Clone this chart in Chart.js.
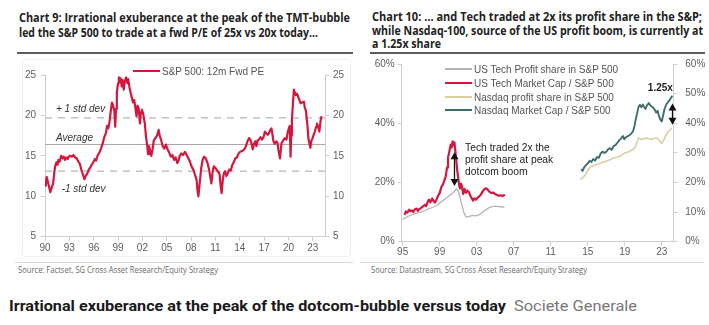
<!DOCTYPE html>
<html><head><meta charset="utf-8">
<script src="https://cdn.jsdelivr.net/npm/chart.js@4.4.0/dist/chart.umd.min.js"></script>
<style>
html,body{margin:0;padding:0;background:#fff;}
#page{position:relative;width:709px;height:325px;overflow:hidden;font-family:"Liberation Sans",Arial,sans-serif;}
.t{position:absolute;white-space:nowrap;transform-origin:0 50%;}
.title{font-family:"Open Sans",sans-serif;font-weight:700;font-size:11.5px;color:#222;line-height:15px;height:15px;}
.rule{position:absolute;height:2px;background:#5c5c5c;}
.thin{position:absolute;height:1px;background:#d8d8d8;}
.src{font-family:"Open Sans",sans-serif;font-size:8.5px;color:#6a6a6a;line-height:12px;height:12px;}
.leg{position:absolute;font-size:10px;color:#555;white-space:nowrap;line-height:12px;height:12px;}
.leg i{display:inline-block;width:27px;height:2px;vertical-align:middle;margin-right:2px;position:relative;top:-1px;}
.cap{font-family:Roboto,sans-serif;font-size:14.5px;line-height:18px;height:18px;}
canvas{position:absolute;}
</style></head><body>
<div id="page">
  <div class="t title" style="left:19px;top:9.5px" data-w="331">Chart 9: Irrational exuberance at the peak of the TMT-bubble</div>
  <div class="t title" style="left:19px;top:24.5px" data-w="299">led the S&amp;P 500 to trade at a fwd P/E of 25x vs 20x today…</div>
  <div class="rule" style="left:17px;top:52px;width:336px"></div>

  <div class="t title" style="left:372px;top:8.5px" data-w="330">Chart 10: … and Tech traded at 2x its profit share in the S&amp;P;</div>
  <div class="t title" style="left:372px;top:22.5px" data-w="331">while Nasdaq-100, source of the US profit boom, is currently at</div>
  <div class="t title" style="left:372px;top:36px" data-w="69">a 1.25x share</div>
  <div class="rule" style="left:370px;top:52px;width:335px"></div>

  <div style="position:absolute;left:22px;top:59px;width:327px;height:196px;border:1px solid #f0f0f0;border-radius:3px;"></div>

  <canvas id="c1" width="360" height="212" style="left:0;top:50px;width:360px;height:212px"></canvas>
  <canvas id="c2" width="349" height="212" style="left:360px;top:50px;width:349px;height:212px"></canvas>

  <div class="leg" style="left:133px;top:66px"><i id="lg0"></i>S&amp;P 500: 12m Fwd PE</div>
  <div class="leg" style="left:445px;top:64px"><i id="lg1"></i>US Tech Profit share in S&amp;P 500</div>
  <div class="leg" style="left:445px;top:78px"><i id="lg2"></i>US Tech Market Cap / S&amp;P 500</div>
  <div class="leg" style="left:445px;top:91.5px"><i id="lg3"></i>Nasdaq profit share in S&amp;P 500</div>
  <div class="leg" style="left:445px;top:104.5px"><i id="lg4"></i>Nasdaq Market Cap / S&amp;P 500</div>

  <div class="thin" style="left:15px;top:262px;width:338px"></div>
  <div class="thin" style="left:360px;top:262px;width:344px"></div>
  <div class="t src" style="left:18px;top:264px" data-w="200">Source: Factset, SG Cross Asset Research/Equity Strategy</div>
  <div class="t src" style="left:371px;top:264px" data-w="216">Source: Datastream, SG Cross Asset Research/Equity Strategy</div>

  <div class="t cap" style="left:9px;top:298px;font-weight:700;color:#1a1a1a" data-w="497">Irrational exuberance at the peak of the dotcom-bubble versus today</div>
  <div class="t cap" style="left:514px;top:298px;font-weight:400;color:#777" data-w="123">Societe Generale</div>
</div>
<script>
// ---------- DATA ----------
const peDates = [1990.0,1990.1,1990.2,1990.35,1990.5,1990.65,1990.8,1991.0,1991.15,1991.25,1991.4,1991.55,1991.65,1991.8,1992.0,1992.15,1992.3,1992.45,1992.6,1992.8,1992.9,1993.1,1993.3,1993.5,1993.7,1993.9,1994.1,1994.3,1994.5,1994.7,1994.85,1995.0,1995.2,1995.4,1995.6,1995.75,1996.0,1996.15,1996.3,1996.5,1996.7,1996.9,1997.1,1997.3,1997.5,1997.65,1997.8,1997.95,1998.1,1998.25,1998.4,1998.55,1998.65,1998.75,1998.85,1999.0,1999.1,1999.2,1999.3,1999.45,1999.55,1999.7,1999.85,2000.0,2000.15,2000.25,2000.4,2000.55,2000.7,2000.85,2001.0,2001.15,2001.28,2001.4,2001.55,2001.7,2001.8,2001.95,2002.1,2002.3,2002.45,2002.6,2002.7,2002.8,2002.95,2003.1,2003.25,2003.4,2003.6,2003.8,2004.0,2004.1,2004.3,2004.5,2004.7,2004.9,2005.1,2005.3,2005.5,2005.7,2005.9,2006.1,2006.3,2006.45,2006.6,2006.8,2007.0,2007.25,2007.45,2007.65,2007.85,2008.05,2008.27,2008.5,2008.68,2008.8,2008.9,2009.0,2009.1,2009.25,2009.42,2009.6,2009.8,2010.0,2010.2,2010.35,2010.5,2010.65,2010.8,2011.0,2011.15,2011.35,2011.5,2011.65,2011.76,2011.9,2012.05,2012.2,2012.35,2012.5,2012.7,2012.9,2013.05,2013.25,2013.45,2013.65,2013.85,2014.05,2014.3,2014.55,2014.75,2014.95,2015.15,2015.3,2015.45,2015.6,2015.75,2015.9,2016.05,2016.2,2016.35,2016.55,2016.75,2016.95,2017.1,2017.25,2017.45,2017.6,2017.75,2017.9,2018.05,2018.15,2018.3,2018.5,2018.65,2018.75,2018.9,2018.95,2019.05,2019.15,2019.35,2019.56,2019.75,2019.9,2020.05,2020.15,2020.2,2020.26,2020.33,2020.42,2020.55,2020.67,2020.75,2020.9,2021.05,2021.2,2021.35,2021.5,2021.65,2021.9,2022.0,2022.15,2022.25,2022.35,2022.45,2022.56,2022.7,2022.8,2022.97,2023.1,2023.25,2023.4,2023.5,2023.65,2023.8,2023.95,2024.07];
const peValues = [12.0,11.3,12.4,11.8,11.2,10.5,11.0,11.6,13.0,13.7,14.2,13.9,14.5,14.3,15.0,14.7,14.9,14.5,14.8,14.6,14.9,15.0,14.9,15.1,14.8,14.7,14.3,14.0,13.2,12.6,12.1,12.5,12.8,13.3,13.6,13.9,14.3,14.6,14.4,15.1,15.4,15.9,16.5,17.3,17.8,18.7,18.4,19.2,20.5,21.6,21.2,20.5,18.6,20.8,22.8,24.0,24.7,24.2,24.6,23.6,24.4,23.2,24.3,24.7,24.0,24.5,23.5,22.8,22.2,21.6,21.9,20.8,19.9,21.2,20.8,19.0,20.2,20.7,20.2,19.0,17.3,16.2,15.2,16.2,15.7,15.0,15.8,16.9,17.2,17.5,18.2,17.6,17.0,16.2,15.9,16.4,15.8,15.4,14.9,15.1,14.5,14.8,14.1,14.4,15.0,15.3,15.1,15.5,15.1,14.7,14.3,13.7,13.3,12.6,12.0,10.6,10.0,11.0,12.0,13.5,14.5,14.9,14.7,14.2,13.4,12.5,11.6,13.0,13.7,13.5,13.3,13.0,12.8,11.2,10.4,12.0,12.9,13.1,12.5,12.8,13.3,13.2,13.8,14.2,14.7,14.8,15.3,15.5,15.6,15.8,16.2,16.8,17.2,17.0,16.5,15.8,16.5,16.8,16.2,16.9,17.0,17.3,17.0,17.4,18.0,17.8,17.6,17.8,18.2,18.4,17.5,16.8,16.5,16.8,16.6,15.8,15.0,14.7,15.7,16.6,16.9,17.2,17.0,17.9,18.4,18.7,17.0,14.9,17.5,19.4,21.5,23.2,22.9,22.5,22.7,22.3,21.9,21.5,21.6,21.7,21.0,20.6,19.5,18.6,17.2,16.6,16.0,16.8,17.2,17.6,18.0,18.6,19.0,18.6,18.0,19.3,19.9];
const peBands = [19.7, 16.4, 13.1];          // +1 std dev, average, -1 std dev
const leftXTicks = [1990,1993,1996,1999,2002,2005,2008,2011,2014,2017,2020,2023];

const techCapDates = [1995.2,1995.35,1995.5,1995.7,1995.85,1996.0,1996.15,1996.3,1996.5,1996.65,1996.8,1997.0,1997.2,1997.4,1997.55,1997.7,1997.85,1998.0,1998.2,1998.35,1998.5,1998.65,1998.85,1999.0,1999.2,1999.35,1999.5,1999.65,1999.8,1999.9,2000.05,2000.2,2000.3,2000.4,2000.5,2000.6,2000.7,2000.8,2000.9,2001.0,2001.1,2001.2,2001.3,2001.4,2001.55,2001.7,2001.85,2002.0,2002.15,2002.3,2002.45,2002.6,2002.75,2002.9,2003.05,2003.25,2003.45,2003.65,2003.85,2004.05,2004.2,2004.4,2004.6,2004.8,2005.0,2005.2,2005.4,2005.6,2005.8,2006.05];
const techCapValues = [9.1,10.2,9.8,10.8,10.3,10.6,10.0,10.9,11.2,10.4,11.0,11.4,11.9,12.5,12.0,13.4,14.2,13.3,14.6,13.7,13.2,14.2,15.6,16.4,18.6,19.3,20.6,22.0,25.0,28.3,30.5,32.8,31.8,33.9,32.6,33.5,30.4,27.5,24.0,21.8,19.2,18.0,19.6,18.8,16.1,17.8,16.5,17.2,16.8,15.6,14.8,13.9,14.6,14.2,14.7,15.2,15.9,17.0,17.8,18.0,17.5,16.8,16.4,16.6,16.0,15.8,15.5,15.7,15.4,15.9];
const techProfitDates = [1995.0,1995.3,1995.6,1996.0,1996.4,1996.8,1997.2,1997.6,1998.0,1998.4,1998.8,1999.1,1999.5,1999.9,2000.2,2000.5,2000.8,2001.0,2001.2,2001.4,2001.6,2001.8,2002.0,2002.3,2002.6,2002.9,2003.2,2003.5,2003.8,2004.1,2004.4,2004.8,2005.2,2005.6,2006.0];
const techProfitValues = [7.6,8.0,8.6,9.1,9.5,9.8,10.2,10.8,11.3,11.8,12.4,13.3,14.2,15.2,15.9,16.7,17.8,17.2,15.0,12.5,10.0,8.5,8.3,8.6,8.9,8.7,9.0,9.6,10.4,11.0,11.6,11.9,11.9,11.8,11.6];
const ndqCapDates = [2014.3,2014.45,2014.6,2014.8,2015.0,2015.2,2015.4,2015.6,2015.8,2016.0,2016.2,2016.4,2016.6,2016.8,2017.0,2017.2,2017.4,2017.6,2017.8,2018.0,2018.2,2018.4,2018.6,2018.8,2018.95,2019.1,2019.3,2019.5,2019.7,2019.9,2020.05,2020.2,2020.35,2020.5,2020.65,2020.8,2020.95,2021.1,2021.25,2021.4,2021.6,2021.8,2022.0,2022.2,2022.4,2022.55,2022.7,2022.85,2023.0,2023.15,2023.3,2023.5,2023.7,2023.85,2024.0,2024.15];
const ndqCapValues = [24.5,23.9,25.0,25.8,26.4,27.3,26.9,27.9,27.4,28.6,28.3,29.8,30.4,30.0,30.3,31.2,31.6,31.0,32.3,32.6,33.4,34.2,34.8,35.7,34.6,35.2,35.6,35.9,36.5,37.3,39.0,41.5,43.5,45.6,46.2,45.4,46.3,45.5,44.8,46.0,46.8,45.9,45.5,44.8,43.6,44.2,42.5,41.2,40.6,42.6,44.8,46.4,47.2,47.8,48.6,49.3];
const ndqProfitDates = [2014.2,2014.45,2014.7,2014.9,2015.1,2015.3,2015.5,2015.75,2016.0,2016.3,2016.5,2016.8,2017.05,2017.4,2017.8,2018.1,2018.5,2018.8,2019.0,2019.3,2019.6,2019.9,2020.1,2020.3,2020.5,2020.8,2021.1,2021.4,2021.7,2021.9,2022.2,2022.5,2022.75,2023.0,2023.2,2023.4,2023.7,2024.1];
const ndqProfitValues = [21.1,21.6,22.3,23.4,24.4,25.4,25.4,25.9,26.1,26.4,26.7,27.0,27.2,27.7,28.3,28.5,28.9,29.5,30.0,30.2,30.6,31.2,31.7,33.5,35.0,34.5,34.8,35.0,34.7,34.5,34.9,35.0,34.0,33.2,34.2,35.6,37.2,38.3];
const rightXTicks = [1995,1999,2003,2007,2011,2015,2019,2023];

// ---------- STYLE ----------
const RED = '#d4173e', GREY = '#b4b4b4', TAN = '#d9cfa3', TEAL = '#3e6e69';
const AX = '#cfcfcf';
const FONT = {family:'"Liberation Sans", Arial, sans-serif', size:10};
const TICKC = '#606060';
[['lg0',RED],['lg1',GREY],['lg2',RED],['lg3',TAN],['lg4',TEAL]].forEach(([id,c])=>{document.getElementById(id).style.background=c;});

const pts = (xs, ys) => xs.map((x,i)=>({x, y: ys[i]}));
const flat = (x0, x1, v) => [{x:x0,y:v},{x:x1,y:v}];
const line = (data, color, w, extra={}) => Object.assign({data, borderColor:color, borderWidth:w, pointRadius:0, tension:0, fill:false, borderJoinStyle:'round'}, extra);

function axis(extra){
  return Object.assign({
    grid:{display:true, drawOnChartArea:false, drawTicks:true, tickLength:4, color:AX},
    border:{display:true, color:AX, width:1},
  }, extra);
}

function arrow(ctx, x, y1, y2){
  ctx.save();
  ctx.strokeStyle='#111'; ctx.fillStyle='#111'; ctx.lineWidth=1.3;
  ctx.beginPath(); ctx.moveTo(x, y1+5); ctx.lineTo(x, y2-5); ctx.stroke();
  ctx.beginPath(); ctx.moveTo(x, y1); ctx.lineTo(x-4, y1+7); ctx.lineTo(x+4, y1+7); ctx.closePath(); ctx.fill();
  ctx.beginPath(); ctx.moveTo(x, y2); ctx.lineTo(x-4, y2-7); ctx.lineTo(x+4, y2-7); ctx.closePath(); ctx.fill();
  ctx.restore();
}

const leftNotes = [
  {text:'+ 1 std dev', x:1991.35, y:20.75},
  {text:'Average', x:1991.35, y:17.2},
  {text:'-1 std dev', x:1992.05, y:10.9},
];
const leftNotesPlugin = {
  id:'leftNotes',
  afterDatasetsDraw(chart){
    const {ctx, scales:{x, y}} = chart;
    ctx.save();
    ctx.font = 'italic 10px "Liberation Sans", Arial, sans-serif';
    ctx.fillStyle = '#333'; ctx.textAlign='left'; ctx.textBaseline='middle';
    leftNotes.forEach(n=>ctx.fillText(n.text, x.getPixelForValue(n.x), y.getPixelForValue(n.y)));
    ctx.restore();
  }
};

new Chart(document.getElementById('c1'), {
  type:'line',
  data:{datasets:[
    line(pts(peDates, peValues), RED, 2.2),
    line(flat(1990, 2024.5, peBands[0]), '#b5b5b5', 1.2, {borderDash:[7,6]}),
    line(flat(1990, 2024.5, peBands[1]), '#a8a8a8', 1.1),
    line(flat(1990, 2024.5, peBands[2]), '#b5b5b5', 1.2, {borderDash:[7,6]}),
  ]},
  options:{
    responsive:false, animation:false, devicePixelRatio:1,
    layout:{padding:{top:25,left:0,right:0,bottom:0}},
    plugins:{legend:{display:false}, tooltip:{enabled:false}},
    scales:{
      x: axis({type:'linear', min:1990, max:2024.5,
        afterBuildTicks:s=>{s.ticks = leftXTicks.map(v=>({value:v}));},
        ticks:{callback:v=>String(v).slice(2), font:FONT, color:TICKC, padding:2, maxRotation:0, autoSkip:false},
        afterFit:s=>{s.height=25.3;}}),
      y: axis({position:'left', min:5, max:25,
        ticks:{stepSize:5, font:FONT, color:TICKC, padding:5},
        afterFit:s=>{s.width=45;}}),
      y2: axis({position:'right', min:5, max:25,
        ticks:{stepSize:5, font:FONT, color:TICKC, padding:4},
        afterFit:s=>{s.width=35;}}),
    }
  },
  plugins:[leftNotesPlugin]
});

const rightNotes = {
  text:['Tech traded 2x the','profit share at peak','dotcom boom'], tx:2001.75, ty:[31.6,27.6,23.6],
  arrows:[{x:2000.6, top:30.2, bottom:18.8},{x:2024.1, top:46.7, bottom:39.5}],
  tag:{text:'1.25x', x:2022.85, y:51.7}
};
const rightNotesPlugin = {
  id:'rightNotes',
  afterDatasetsDraw(chart){
    const {ctx, scales:{x, y}} = chart;
    ctx.save();
    ctx.font = '10.3px "Liberation Sans", Arial, sans-serif';
    ctx.fillStyle = '#1e1e1e'; ctx.textAlign='left'; ctx.textBaseline='middle';
    rightNotes.text.forEach((t,i)=>ctx.fillText(t, x.getPixelForValue(rightNotes.tx), y.getPixelForValue(rightNotes.ty[i])));
    ctx.font = 'bold 10px "Liberation Sans", Arial, sans-serif';
    ctx.textAlign='center';
    ctx.fillText(rightNotes.tag.text, x.getPixelForValue(rightNotes.tag.x), y.getPixelForValue(rightNotes.tag.y));
    rightNotes.arrows.forEach(a=>arrow(ctx, Math.round(x.getPixelForValue(a.x))+0.5, y.getPixelForValue(a.top), y.getPixelForValue(a.bottom)));
    ctx.restore();
  }
};

new Chart(document.getElementById('c2'), {
  type:'line',
  data:{datasets:[
    line(pts(techCapDates, techCapValues), RED, 2.2),
    line(pts(ndqCapDates, ndqCapValues), TEAL, 1.9),
    line(pts(techProfitDates, techProfitValues), GREY, 1.3),
    line(pts(ndqProfitDates, ndqProfitValues), TAN, 1.6),
  ]},
  options:{
    responsive:false, animation:false, devicePixelRatio:1,
    layout:{padding:{top:11,left:0,right:0,bottom:0}},
    plugins:{legend:{display:false}, tooltip:{enabled:false}},
    scales:{
      x: axis({type:'linear', min:1994.9, max:2024.25,
        afterBuildTicks:s=>{s.ticks = rightXTicks.map(v=>({value:v}));},
        ticks:{callback:v=>String(v).slice(2), font:FONT, color:TICKC, padding:1, maxRotation:0, autoSkip:false},
        afterFit:s=>{s.height=20.3;}}),
      y: axis({position:'left', min:0, max:60,
        ticks:{stepSize:20, font:FONT, color:TICKC, padding:3, callback:v=>v+'%'},
        afterFit:s=>{s.width=41.7;}}),
      y2: axis({position:'right', min:0, max:60,
        ticks:{stepSize:10, font:FONT, color:TICKC, padding:8, callback:v=>v+'%'},
        afterFit:s=>{s.width=35.7;}}),
    }
  },
  plugins:[rightNotesPlugin]
});

document.querySelectorAll('[data-w]').forEach(el=>{
  const w = parseFloat(el.dataset.w);
  const nat = el.getBoundingClientRect().width;
  if (nat>0) el.style.transform = 'scaleX(' + (w/nat) + ')';
});
</script>
</body></html>
